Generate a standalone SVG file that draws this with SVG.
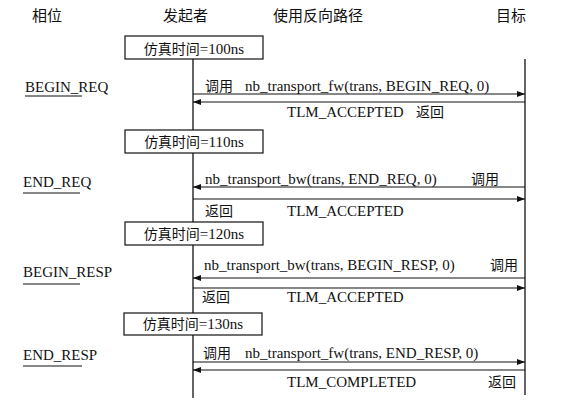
<svg xmlns="http://www.w3.org/2000/svg" width="588" height="404" viewBox="0 0 588 404">
<style>
text{font-family:"Liberation Serif","Noto Sans CJK SC",serif;font-size:15px;fill:#111}
.cjk{font-family:"Noto Sans CJK SC","Liberation Serif",sans-serif;font-size:14px}
.hdr{font-family:"Noto Sans CJK SC",sans-serif;font-size:15px}
.box{fill:#fff;stroke:#111;stroke-width:1.2}
.life{stroke:#111;stroke-width:1.3;fill:none}
.msg{stroke:#111;stroke-width:1.1;fill:none}
.ul{stroke:#111;stroke-width:1.1}
</style>
<defs>
<marker id="ah" viewBox="0 0 8 6" refX="8" refY="3" markerWidth="8" markerHeight="6" markerUnits="userSpaceOnUse" orient="auto">
<path d="M0,0 L8,3 L0,6 z" fill="#111"/>
</marker>
</defs>
<g id="headers">
<text class="hdr" x="32" y="21">相位</text>
<text class="hdr" x="163" y="21">发起者</text>
<text class="hdr" x="273" y="21">使用反向路径</text>
<text class="hdr" x="496" y="21">目标</text>
</g>
<g id="lifelines">
<line class="life" x1="193" y1="59" x2="193" y2="130"/>
<line class="life" x1="193" y1="153" x2="193" y2="222"/>
<line class="life" x1="193" y1="245" x2="193" y2="313"/>
<line class="life" x1="193" y1="335" x2="193" y2="398"/>
<line class="life" x1="525" y1="59" x2="525" y2="395"/>
</g>
<g id="time100"><rect class="box" x="125" y="36" width="138" height="23"/><text x="194" y="54" text-anchor="middle"><tspan class="cjk">仿真时间</tspan>=100ns</text></g>
<g id="time110"><rect class="box" x="125" y="130" width="138" height="23"/><text x="194" y="147" text-anchor="middle"><tspan class="cjk">仿真时间</tspan>=110ns</text></g>
<g id="time120"><rect class="box" x="125" y="222" width="138" height="23"/><text x="194" y="239" text-anchor="middle"><tspan class="cjk">仿真时间</tspan>=120ns</text></g>
<g id="time130"><rect class="box" x="124" y="313" width="138" height="22"/><text x="193" y="329" text-anchor="middle"><tspan class="cjk">仿真时间</tspan>=130ns</text></g>
<g id="phases">
<text x="25" y="92">BEGIN_REQ</text><line class="ul" x1="25" y1="96" x2="82" y2="96"/>
<text x="23" y="187">END_REQ</text><line class="ul" x1="23" y1="193" x2="80" y2="193"/>
<text x="23" y="277">BEGIN_RESP</text><line class="ul" x1="23" y1="284" x2="80" y2="284"/>
<text x="23" y="360">END_RESP</text><line class="ul" x1="23" y1="366" x2="82" y2="366"/>
</g>
<g id="connectors">
<line class="msg" x1="193" y1="94" x2="525" y2="94" marker-end="url(#ah)"/>
<line class="msg" x1="525" y1="102" x2="193" y2="102" marker-end="url(#ah)"/>
<line class="msg" x1="525" y1="187" x2="193" y2="187" marker-end="url(#ah)"/>
<line class="msg" x1="193" y1="199" x2="525" y2="199" marker-end="url(#ah)"/>
<line class="msg" x1="525" y1="278" x2="193" y2="278" marker-end="url(#ah)"/>
<line class="msg" x1="193" y1="288" x2="525" y2="288" marker-end="url(#ah)"/>
<line class="msg" x1="193" y1="362" x2="525" y2="362" marker-end="url(#ah)"/>
<line class="msg" x1="525" y1="370" x2="193" y2="370" marker-end="url(#ah)"/>
</g>
<g id="labels">
<text class="cjk" x="205" y="91">调用</text><text x="245" y="91">nb_transport_fw(trans, BEGIN_REQ, 0)</text>
<text x="287" y="117">TLM_ACCEPTED</text><text class="cjk" x="416" y="117">返回</text>
<text x="205" y="184">nb_transport_bw(trans, END_REQ, 0)</text><text class="cjk" x="471" y="184">调用</text>
<text class="cjk" x="205" y="216">返回</text><text x="287" y="216">TLM_ACCEPTED</text>
<text x="204" y="270">nb_transport_bw(trans, BEGIN_RESP, 0)</text><text class="cjk" x="490" y="270">调用</text>
<text class="cjk" x="202" y="302">返回</text><text x="287" y="302">TLM_ACCEPTED</text>
<text class="cjk" x="203" y="358">调用</text><text x="245" y="358">nb_transport_fw(trans, END_RESP, 0)</text>
<text x="287" y="387">TLM_COMPLETED</text><text class="cjk" x="488" y="387">返回</text>
</g>
</svg>
